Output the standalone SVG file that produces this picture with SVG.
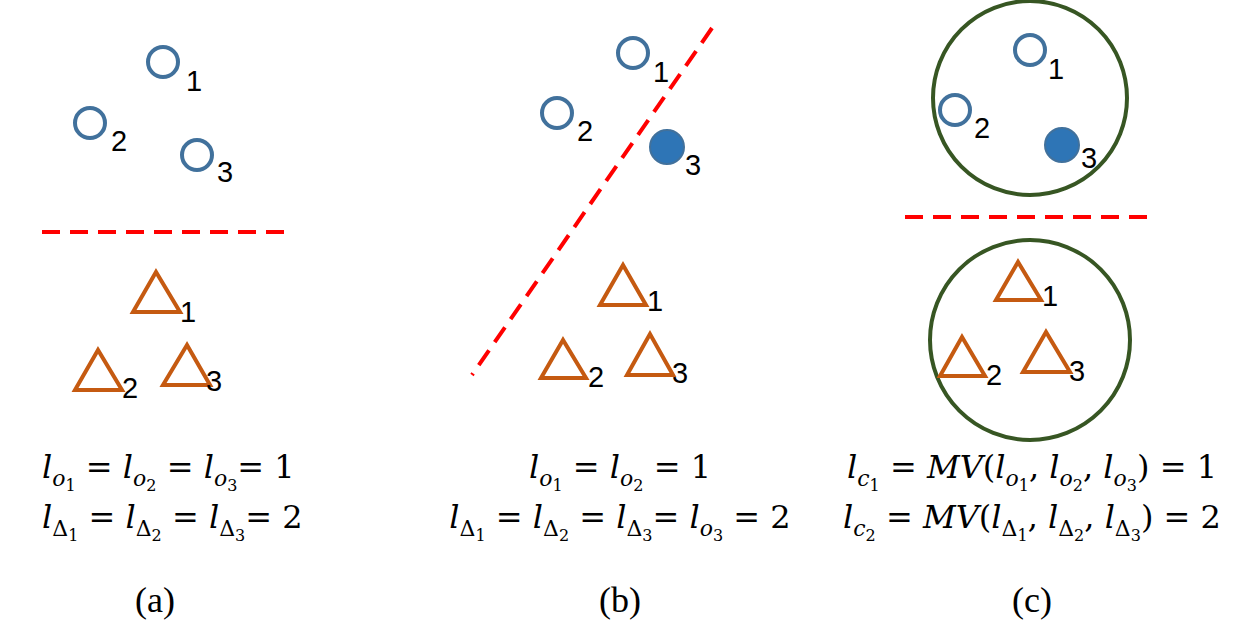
<svg xmlns="http://www.w3.org/2000/svg" width="1240" height="640" viewBox="0 0 1240 640">
<style>
.oc{fill:none;stroke:#41719c;stroke-width:4}
.of{fill:#2e75b6;stroke:#41719c;stroke-width:2}
.tr{fill:none;stroke:#c55a11;stroke-width:4;stroke-linejoin:miter}
.dl{stroke:#ff0000;stroke-width:4;stroke-dasharray:18 10;fill:none}
.bc{fill:none;stroke:#375623;stroke-width:4}
.lb{font-family:"Liberation Sans",Arial,sans-serif;font-size:29px;fill:#000}
.eq{font-family:"DejaVu Serif","Liberation Serif",serif;font-size:32px;fill:#000}
.i{font-style:italic}
.s{font-size:22px;font-style:italic}
.d{font-size:22px}
.ss{font-size:16px}
.cap{font-family:"Liberation Serif","Times New Roman",serif;font-size:36px;fill:#000}
</style>
<g id="panel-a">
<circle class="oc" cx="163" cy="62" r="15"/><text class="lb" x="186" y="91">1</text>
<circle class="oc" cx="90" cy="123" r="15"/><text class="lb" x="111" y="151">2</text>
<circle class="oc" cx="197" cy="155" r="15"/><text class="lb" x="217" y="182">3</text>
<line class="dl" x1="42" y1="232" x2="290" y2="232"/>
<polygon class="tr" points="156,272 133,312 180,312"/><text class="lb" x="180" y="322">1</text>
<polygon class="tr" points="98,350 75,390 122,390"/><text class="lb" x="122" y="398">2</text>
<polygon class="tr" points="187,345 163,385 210,385"/><text class="lb" x="206" y="391">3</text>
<text class="eq" x="42" y="478"><tspan class="i">l</tspan><tspan class="s" dy="8">o</tspan><tspan class="ss" dy="5">1</tspan><tspan dy="-13"> = </tspan><tspan class="i">l</tspan><tspan class="s" dy="8">o</tspan><tspan class="ss" dy="5">2</tspan><tspan dy="-13"> = </tspan><tspan class="i">l</tspan><tspan class="s" dy="8">o</tspan><tspan class="ss" dy="5">3</tspan><tspan dy="-13">= 1</tspan></text>
<text class="eq" x="42" y="528"><tspan class="i">l</tspan><tspan class="d" dy="8">Δ</tspan><tspan class="ss" dy="5">1</tspan><tspan dy="-13"> = </tspan><tspan class="i">l</tspan><tspan class="d" dy="8">Δ</tspan><tspan class="ss" dy="5">2</tspan><tspan dy="-13"> = </tspan><tspan class="i">l</tspan><tspan class="d" dy="8">Δ</tspan><tspan class="ss" dy="5">3</tspan><tspan dy="-13">= 2</tspan></text>
<text class="cap" x="155" y="612" text-anchor="middle">(a)</text>
</g>
<g id="panel-b">
<circle class="oc" cx="633" cy="53" r="15"/><text class="lb" x="653" y="82">1</text>
<circle class="oc" cx="557" cy="113" r="15"/><text class="lb" x="577" y="141">2</text>
<circle class="of" cx="667" cy="147" r="17"/><text class="lb" x="685" y="175">3</text>
<line class="dl" x1="712" y1="28" x2="472" y2="375"/>
<polygon class="tr" points="623,265 600,305 646,305"/><text class="lb" x="647" y="311">1</text>
<polygon class="tr" points="563,340 541,378 586,378"/><text class="lb" x="588" y="387">2</text>
<polygon class="tr" points="650,334 627,375 673,375"/><text class="lb" x="672" y="383">3</text>
<text class="eq" x="620" y="478" text-anchor="middle"><tspan class="i">l</tspan><tspan class="s" dy="8">o</tspan><tspan class="ss" dy="5">1</tspan><tspan dy="-13"> = </tspan><tspan class="i">l</tspan><tspan class="s" dy="8">o</tspan><tspan class="ss" dy="5">2</tspan><tspan dy="-13"> = 1</tspan></text>
<text class="eq" x="620" y="528" text-anchor="middle"><tspan class="i">l</tspan><tspan class="d" dy="8">Δ</tspan><tspan class="ss" dy="5">1</tspan><tspan dy="-13"> = </tspan><tspan class="i">l</tspan><tspan class="d" dy="8">Δ</tspan><tspan class="ss" dy="5">2</tspan><tspan dy="-13"> = </tspan><tspan class="i">l</tspan><tspan class="d" dy="8">Δ</tspan><tspan class="ss" dy="5">3</tspan><tspan dy="-13">= </tspan><tspan class="i">l</tspan><tspan class="s" dy="8">o</tspan><tspan class="ss" dy="5">3</tspan><tspan dy="-13"> = 2</tspan></text>
<text class="cap" x="620" y="612" text-anchor="middle">(b)</text>
</g>
<g id="panel-c">
<circle class="bc" cx="1030" cy="98" r="97"/>
<circle class="bc" cx="1030" cy="340" r="100"/>
<circle class="oc" cx="1030" cy="50" r="15"/><text class="lb" x="1048" y="79">1</text>
<circle class="oc" cx="955" cy="110" r="15"/><text class="lb" x="974" y="138">2</text>
<circle class="of" cx="1062" cy="145" r="17"/><text class="lb" x="1081" y="168">3</text>
<line class="dl" x1="905" y1="217" x2="1155" y2="217"/>
<polygon class="tr" points="1018,262 996,300 1041,300"/><text class="lb" x="1042" y="306">1</text>
<polygon class="tr" points="962,337 940,376 985,376"/><text class="lb" x="986" y="385">2</text>
<polygon class="tr" points="1046,332 1023,372 1070,372"/><text class="lb" x="1069" y="381">3</text>
<text class="eq" x="1032" y="478" text-anchor="middle"><tspan class="i">l</tspan><tspan class="s" dy="8">c</tspan><tspan class="ss" dy="5">1</tspan><tspan dy="-13"> = </tspan><tspan class="i">MV</tspan><tspan>(</tspan><tspan class="i">l</tspan><tspan class="s" dy="8">o</tspan><tspan class="ss" dy="5">1</tspan><tspan dy="-13">, </tspan><tspan class="i">l</tspan><tspan class="s" dy="8">o</tspan><tspan class="ss" dy="5">2</tspan><tspan dy="-13">, </tspan><tspan class="i">l</tspan><tspan class="s" dy="8">o</tspan><tspan class="ss" dy="5">3</tspan><tspan dy="-13">) = 1</tspan></text>
<text class="eq" x="1032" y="528" text-anchor="middle"><tspan class="i">l</tspan><tspan class="s" dy="8">c</tspan><tspan class="ss" dy="5">2</tspan><tspan dy="-13"> = </tspan><tspan class="i">MV</tspan><tspan>(</tspan><tspan class="i">l</tspan><tspan class="d" dy="8">Δ</tspan><tspan class="ss" dy="5">1</tspan><tspan dy="-13">, </tspan><tspan class="i">l</tspan><tspan class="d" dy="8">Δ</tspan><tspan class="ss" dy="5">2</tspan><tspan dy="-13">, </tspan><tspan class="i">l</tspan><tspan class="d" dy="8">Δ</tspan><tspan class="ss" dy="5">3</tspan><tspan dy="-13">) = 2</tspan></text>
<text class="cap" x="1032" y="612" text-anchor="middle">(c)</text>
</g>
</svg>
